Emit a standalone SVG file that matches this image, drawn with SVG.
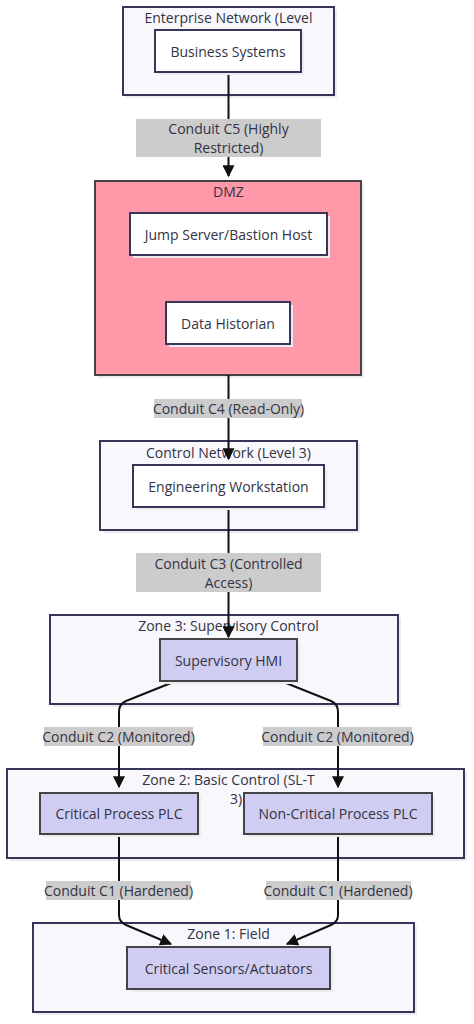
<svg xmlns="http://www.w3.org/2000/svg" width="474" height="1024" viewBox="0 0 474 1024">
<defs>
<style>
text{font-family:"Open Sans","Liberation Sans",sans-serif;font-size:14px;fill:#333344;text-anchor:middle;dominant-baseline:central}
.cl{fill:#f8f8fc;stroke:#36365a;stroke-width:2}
.dmz{fill:#ff98a8;stroke:#444444;stroke-width:2}
.nw{fill:#ffffff;stroke:#36365a;stroke-width:2}
.nl{fill:#cfcdf2;stroke:#444444;stroke-width:2}
.sh{fill:#ececf0}
.lb{fill:#cccccc}
.e{fill:none;stroke:#111111;stroke-width:2}
</style>
<marker id="ah" viewBox="0 0 10 10" refX="9" refY="5" markerWidth="6" markerHeight="6" orient="auto" markerUnits="strokeWidth">
<path d="M0,0 L10,5 L0,10 z" fill="#111111"/>
</marker>
</defs>
<rect width="474" height="1024" fill="#ffffff"/>

<g id="enterprise">
<rect class="sh" x="126" y="10" width="211" height="88"/>
<rect class="cl" x="123" y="7" width="211" height="88"/>
<text x="228.5" y="17">Enterprise Network (Level</text>
</g>
<g id="dmz">
<rect class="sh" x="98" y="184" width="266" height="194"/>
<rect class="dmz" x="95" y="181" width="266" height="194"/>
<text x="228.5" y="191">DMZ</text>
</g>
<g id="control">
<rect class="sh" x="103" y="444" width="257" height="89"/>
<rect class="cl" x="100" y="441" width="257" height="89"/>
<text x="228.5" y="452">Control Network (Level 3)</text>
</g>
<g id="zone3">
<rect class="sh" x="53" y="618" width="348" height="89"/>
<rect class="cl" x="50" y="615" width="348" height="89"/>
<text x="228.5" y="625">Zone 3: Supervisory Control</text>
</g>
<g id="zone2">
<rect class="sh" x="10" y="772" width="457" height="89"/>
<rect class="cl" x="7" y="769" width="457" height="89"/>
<text x="228.5" y="779">Zone 2: Basic Control (SL-T</text>
<text x="236" y="798">3)</text>
</g>
<g id="zone1">
<rect class="sh" x="36" y="926" width="381" height="89"/>
<rect class="cl" x="33" y="923" width="381" height="89"/>
<text x="228.5" y="933">Zone 1: Field</text>
</g>

<g id="connectors">
<path class="e" d="M228.5,72 V176" marker-end="url(#ah)"/>
<path class="e" d="M228.5,375 V459" marker-end="url(#ah)"/>
<path class="e" d="M228.5,507 V637" marker-end="url(#ah)"/>
<path class="e" d="M176,681 L126,701 Q119,704 119,712 V787" marker-end="url(#ah)"/>
<path class="e" d="M281,681 L331,701 Q338,704 338,712 V787" marker-end="url(#ah)"/>
<path class="e" d="M119,834 V915 Q119,922 126,925 L171,944" marker-end="url(#ah)"/>
<path class="e" d="M338,834 V915 Q338,922 331,925 L287,944" marker-end="url(#ah)"/>
<g id="lbl-c5"><rect class="lb" x="136" y="119" width="185" height="38"/><text x="228.5" y="128.5">Conduit C5 (Highly</text><text x="228.5" y="147.5">Restricted)</text></g>
<g id="lbl-c4"><rect class="lb" x="154" y="399" width="148" height="19"/><text x="228.5" y="408.5">Conduit C4 (Read-Only)</text></g>
<g id="lbl-c3"><rect class="lb" x="136" y="553" width="185" height="39"/><text x="228.5" y="563">Conduit C3 (Controlled</text><text x="228.5" y="582">Access)</text></g>
<g id="lbl-c2a"><rect class="lb" x="44" y="727" width="149" height="19"/><text x="118.5" y="736.5">Conduit C2 (Monitored)</text></g>
<g id="lbl-c2b"><rect class="lb" x="263" y="727" width="149" height="19"/><text x="337.5" y="736.5">Conduit C2 (Monitored)</text></g>
<g id="lbl-c1a"><rect class="lb" x="46" y="881" width="145" height="19"/><text x="118.5" y="890">Conduit C1 (Hardened)</text></g>
<g id="lbl-c1b"><rect class="lb" x="266" y="881" width="145" height="19"/><text x="338" y="890">Conduit C1 (Hardened)</text></g>
</g>

<g id="business-systems">
<rect class="sh" x="158" y="33" width="146" height="42"/>
<rect class="nw" x="155" y="30" width="146" height="42"/>
<text x="228" y="51">Business Systems</text>
</g>
<g id="jump-server">
<rect class="sh" x="133" y="216" width="197" height="42"/>
<rect class="nw" x="130" y="213" width="197" height="42"/>
<text x="228.5" y="234">Jump Server/Bastion Host</text>
</g>
<g id="data-historian">
<rect class="sh" x="169" y="305" width="124" height="42"/>
<rect class="nw" x="166" y="302" width="124" height="42"/>
<text x="228" y="323">Data Historian</text>
</g>
<g id="engineering-workstation">
<rect class="sh" x="136" y="468" width="191" height="42"/>
<rect class="nw" x="133" y="465" width="191" height="42"/>
<text x="228.5" y="486">Engineering Workstation</text>
</g>
<g id="supervisory-hmi">
<rect class="sh" x="163" y="642" width="137" height="42"/>
<rect class="nl" x="160" y="639" width="137" height="42"/>
<text x="228.5" y="660">Supervisory HMI</text>
</g>
<g id="critical-plc">
<rect class="sh" x="43" y="796" width="158" height="41"/>
<rect class="nl" x="40" y="793" width="158" height="41"/>
<text x="119" y="813.5">Critical Process PLC</text>
</g>
<g id="noncritical-plc">
<rect class="sh" x="247" y="796" width="188" height="41"/>
<rect class="nl" x="244" y="793" width="188" height="41"/>
<text x="338" y="813.5">Non-Critical Process PLC</text>
</g>
<g id="sensors">
<rect class="sh" x="130" y="950" width="203" height="42"/>
<rect class="nl" x="127" y="947" width="203" height="42"/>
<text x="228.5" y="968">Critical Sensors/Actuators</text>
</g>
</svg>
